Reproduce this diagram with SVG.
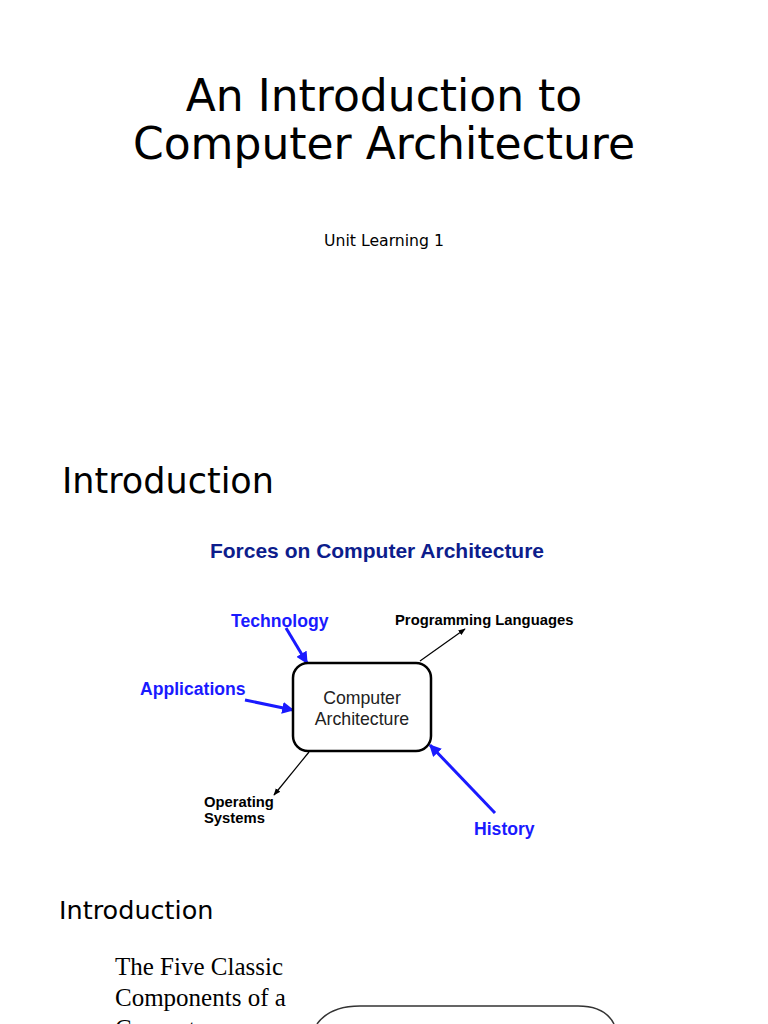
<svg xmlns="http://www.w3.org/2000/svg" width="768" height="1024" viewBox="0 0 768 1024">
<style>
.t{font-family:"DejaVu Sans",sans-serif;fill:#000}
.a{font-family:"Liberation Sans",Arial,sans-serif;font-weight:bold}
.b{fill:#1a1aff}
.s{font-family:"Liberation Serif",serif;font-size:25px}
</style>
<defs>
<marker id="mb" viewBox="0 0 10 10" refX="9" refY="5" markerWidth="4" markerHeight="4" orient="auto"><path d="M0,0L10,5L0,10z" fill="#1a1aff"/></marker>
<marker id="mk" viewBox="0 0 10 10" refX="9" refY="5" markerWidth="6" markerHeight="6" orient="auto"><path d="M0,1L10,5L0,9z" fill="#000"/></marker>
</defs>
<rect width="768" height="1024" fill="#fff"/>
<text class="t" x="384" y="111" font-size="44" text-anchor="middle">An Introduction to</text>
<text class="t" x="384" y="159" font-size="44" text-anchor="middle">Computer Architecture</text>
<text class="t" x="384" y="246" font-size="15.7" text-anchor="middle">Unit Learning 1</text>
<text class="t" x="62" y="493" font-size="35">Introduction</text>
<text class="a" x="377" y="558" font-size="21" fill="#0d1d8c" text-anchor="middle">Forces on Computer Architecture</text>
<g id="connectors">
<line x1="286" y1="628" x2="307" y2="663" stroke="#1a1aff" stroke-width="3" marker-end="url(#mb)"/>
<line x1="245" y1="700" x2="293" y2="710" stroke="#1a1aff" stroke-width="3" marker-end="url(#mb)"/>
<line x1="495" y1="813" x2="430" y2="745" stroke="#1a1aff" stroke-width="3" marker-end="url(#mb)"/>
<line x1="420" y1="661" x2="465" y2="629" stroke="#000" stroke-width="1.2" marker-end="url(#mk)"/>
<line x1="309" y1="752" x2="274" y2="795" stroke="#000" stroke-width="1.2" marker-end="url(#mk)"/>
</g>
<g id="core"><rect x="293" y="663" width="138" height="88" rx="15" fill="#fff" stroke="#000" stroke-width="2.5"/>
<text x="362" y="704" font-family="Liberation Sans,Arial,sans-serif" font-size="17.7" text-anchor="middle" fill="#222">Computer</text>
<text x="362" y="725" font-family="Liberation Sans,Arial,sans-serif" font-size="17.7" text-anchor="middle" fill="#222">Architecture</text></g>
<g id="technology"><text class="a b" x="231" y="627" font-size="17.6">Technology</text></g>
<g id="applications"><text class="a b" x="140" y="695" font-size="17.6">Applications</text></g>
<g id="history"><text class="a b" x="474" y="835" font-size="17.6">History</text></g>
<g id="proglang"><text class="a" x="395" y="625" font-size="14.8">Programming Languages</text></g>
<g id="os"><text class="a" x="204" y="807" font-size="14.8">Operating</text><text class="a" x="204" y="823" font-size="14.8">Systems</text></g>
<text class="t" x="59" y="919" font-size="25.5">Introduction</text>
<text class="s" x="115" y="975">The Five Classic</text>
<text class="s" x="115" y="1006">Components of a</text>
<text class="s" x="115" y="1037">Computer</text>
<path d="M317,1024 Q330,1006 360,1006 L578,1006 Q605,1006 614,1024" fill="none" stroke="#333" stroke-width="1.5"/>
</svg>
